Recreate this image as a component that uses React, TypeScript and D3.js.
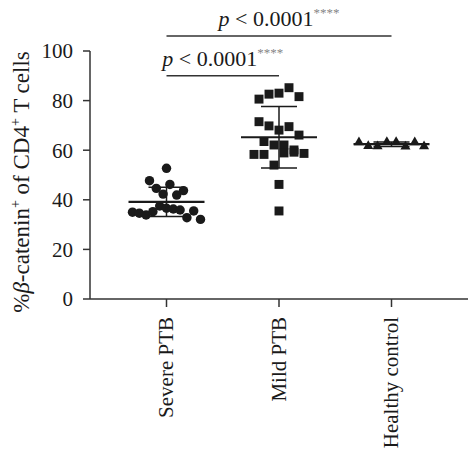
import * as d3 from "d3";

// values (% beta-catenin+ of CD4+ T cells)
const categories = ["Severe PTB", "Mild PTB", "Healthy control"];
const severePTB = [35.0, 34.6, 33.9, 35.2, 37.5, 36.6, 36.3, 35.9, 32.8, 35.5, 32.1, 47.7, 44.6, 42.3, 46.2, 41.9, 43.7, 52.7];
const mildPTB = [80.6, 82.6, 83.0, 85.2, 81.6, 71.5, 69.8, 68.1, 69.5, 66.1, 63.5, 62.1, 62.1, 60.1, 58.3, 58.3, 54.0, 58.9, 59.2, 58.7, 46.2, 35.5];
const healthyControl = [63.2, 61.7, 61.6, 63.3, 63.3, 61.5, 63.2, 61.6];
const yTicks = [0, 20, 40, 60, 80, 100];
const comparisonPairs = [["Severe PTB", "Mild PTB"], ["Severe PTB", "Healthy control"]];
const comparisonLevels = [90, 106];
const pText = "p < 0.0001";
const stars = "****";

const W = 474, H = 460;
const font = "'Liberation Serif', 'Times New Roman', serif";
const ink = "#1a1a1a";

const x = d3.scalePoint<string>().domain(categories).range([90, 468]).padding(0.68);
const y = d3.scaleLinear().domain([0, 100]).range([299, 51]);

// GraphPad-ish column scatter: group close values into rows, spread each row around the centre
function columnScatter(values: number[], rowSpan: number, spacing: number) {
  const order = d3.range(values.length).sort((a, b) => values[a] - values[b]);
  const offsets = new Array(values.length).fill(0);
  let row: number[] = [];
  let start = -Infinity;
  const flush = () => {
    row.sort((a, b) => a - b);
    row.forEach((k, i) => (offsets[k] = (i - (row.length - 1) / 2) * spacing));
  };
  for (const i of order) {
    if (values[i] - start >= rowSpan) {
      flush();
      row = [];
      start = values[i];
    }
    row.push(i);
  }
  flush();
  return offsets;
}

const groups = [
  { name: categories[0], values: severePTB, symbol: d3.symbolCircle, size: 70, spacing: 6.8 },
  { name: categories[1], values: mildPTB, symbol: d3.symbolSquare, size: 80, spacing: 10 },
  { name: categories[2], values: healthyControl, symbol: d3.symbolTriangle, size: 44, spacing: 9.3 },
];

const Group = ({ g }: { g: typeof groups[number] }) => {
  const cx = x(g.name)!;
  const offs = columnScatter(g.values, 5.9, g.spacing);
  const path = d3.symbol().type(g.symbol).size(g.size)()!;
  const mean = d3.mean(g.values)!;
  const sd = d3.deviation(g.values)!;
  return (
    <g>
      {g.values.map((v, i) => (
        <path key={i} d={path} transform={`translate(${cx + offs[i]},${y(v)})`} fill={ink} />
      ))}
      <line x1={cx} x2={cx} y1={y(mean + sd)} y2={y(mean - sd)} stroke={ink} strokeWidth={1.5} />
      <line x1={cx - 18} x2={cx + 18} y1={y(mean + sd)} y2={y(mean + sd)} stroke={ink} strokeWidth={1.5} />
      <line x1={cx - 18} x2={cx + 18} y1={y(mean - sd)} y2={y(mean - sd)} stroke={ink} strokeWidth={1.5} />
      <line x1={cx - 38} x2={cx + 38} y1={y(mean)} y2={y(mean)} stroke={ink} strokeWidth={2.2} />
    </g>
  );
};

export default function App() {
  const [x0, x1] = x.range();
  return (
    <svg width={W} height={H} style={{ position: "absolute", left: 0, top: 0, background: "#fff" }} fontFamily={font}>
      {/* y axis */}
      <line x1={x0} x2={x0} y1={y(100)} y2={y(0)} stroke="#333" strokeWidth={1.5} />
      {yTicks.map(t => (
        <g key={t} transform={`translate(0,${y(t)})`}>
          <line x1={x0 - 7} x2={x0} stroke="#333" strokeWidth={1.5} />
          <text x={x0 - 17} dy="0.35em" textAnchor="end" fontSize={21} fill={ink}>{t}</text>
        </g>
      ))}
      <text transform={`translate(29,182) rotate(-90)`} textAnchor="middle" fontSize={23} fill={ink}>
        %<tspan fontStyle="italic">β</tspan>-catenin<tspan dy={-9} fontSize={14}>+</tspan>
        <tspan dy={9}> of CD4</tspan><tspan dy={-9} fontSize={14}>+</tspan><tspan dy={9}> T cells</tspan>
      </text>

      {/* x axis */}
      <line x1={x0} x2={x1} y1={y(0)} y2={y(0)} stroke="#333" strokeWidth={1.5} />
      {categories.map(c => (
        <g key={c}>
          <line x1={x(c)} x2={x(c)} y1={y(0)} y2={y(0) + 8} stroke="#333" strokeWidth={1.5} />
          <text transform={`translate(${x(c)},${y(0) + 18}) rotate(-90)`} textAnchor="end" dy="0.33em" fontSize={21} fill={ink}>{c}</text>
        </g>
      ))}

      {groups.map(g => <Group key={g.name} g={g} />)}

      {/* significance brackets */}
      {comparisonPairs.map(([a, b], i) => {
        const xa = x(a)!, xb = x(b)!, yy = y(comparisonLevels[i]);
        return (
          <g key={i}>
            <line x1={xa} x2={xb} y1={yy} y2={yy} stroke="#333" strokeWidth={1.5} />
            <text x={(xa + xb) / 2} y={yy - 10} textAnchor="middle" fontSize={22} fill={ink}>
              <tspan fontStyle="italic">{pText.slice(0, 1)}</tspan>{pText.slice(1)}
              <tspan dy={-9} fontSize={13} fill="#858585">{stars}</tspan>
            </text>
          </g>
        );
      })}
    </svg>
  );
}
